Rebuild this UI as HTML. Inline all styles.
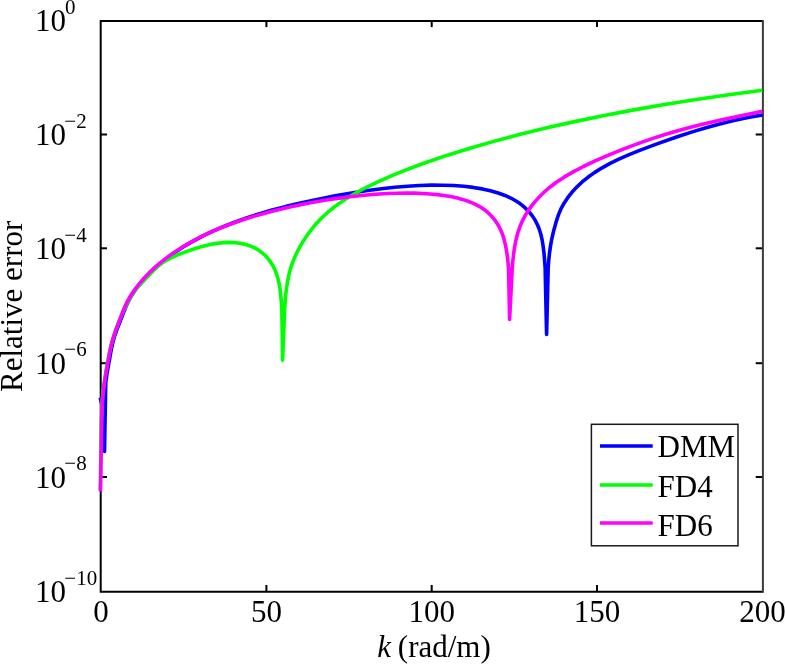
<!DOCTYPE html>
<html><head><meta charset="utf-8"><style>
html,body{margin:0;padding:0;background:#fff;}
svg{display:block;}
text{font-family:"Liberation Serif","Times New Roman",serif;font-size:31px;fill:#000;text-anchor:middle;}
text.l,text.s{text-anchor:start;}
text.s{font-size:21px;}
</style></head><body>
<svg width="785" height="664" viewBox="0 0 785 664">
<rect width="785" height="664" fill="#fff"/>
<g stroke="#000" stroke-width="2" fill="none">
<path d="M762.9,591.8 L100.7,591.8 L100.7,20.9 L762.9,20.9"/>
<line x1="266.4" y1="591.8" x2="266.4" y2="585.0"/><line x1="266.4" y1="20.9" x2="266.4" y2="27.1"/><line x1="431.7" y1="591.8" x2="431.7" y2="585.0"/><line x1="431.7" y1="20.9" x2="431.7" y2="27.1"/><line x1="597.0" y1="591.8" x2="597.0" y2="585.0"/><line x1="597.0" y1="20.9" x2="597.0" y2="27.1"/><line x1="100.7" y1="134.5" x2="107.0" y2="134.5"/><line x1="762.9" y1="134.5" x2="755.7" y2="134.5"/><line x1="100.7" y1="248.3" x2="107.0" y2="248.3"/><line x1="762.9" y1="248.3" x2="755.7" y2="248.3"/><line x1="100.7" y1="363.2" x2="107.0" y2="363.2"/><line x1="762.9" y1="363.2" x2="755.7" y2="363.2"/><line x1="100.7" y1="477.0" x2="107.0" y2="477.0"/><line x1="762.9" y1="477.0" x2="755.7" y2="477.0"/>
</g>
<line x1="762.9" y1="19.9" x2="762.9" y2="592.8" stroke="#3c3c3c" stroke-width="2"/>
<g fill="none" stroke-width="3.6" stroke-linejoin="round" stroke-linecap="butt">
<path stroke="#0000ff" d="M100.20,397.60 L102.30,406.00 L104.50,451.50 L105.73,382.71 L107.06,372.97 L111.07,350.69 L112.85,342.31 L114.63,336.02 L117.08,329.21 L123.76,312.01 L126.20,306.08 L127.98,302.20 L129.54,299.16 L131.55,295.66 L133.55,292.52 L136.44,288.46 L139.78,284.25 L143.79,279.64 L148.02,275.14 L152.47,270.74 L156.92,266.64 L161.60,262.62 L166.49,258.69 L174.51,252.80 L183.19,247.06 L192.31,241.62 L202.11,236.35 L212.35,231.38 L223.25,226.60 L234.60,222.11 L246.40,217.90 L258.87,213.89 L272.00,210.09 L286.25,206.37 L301.60,202.74 L318.30,199.15 L335.22,195.86 L351.69,192.99 L367.71,190.54 L381.51,188.74 L394.65,187.32 L407.56,186.23 L419.80,185.52 L431.60,185.17 L442.95,185.19 L453.63,185.57 L463.87,186.32 L473.22,187.41 L482.12,188.89 L490.36,190.72 L498.15,192.96 L505.05,195.47 L511.28,198.31 L516.85,201.48 L519.52,203.28 L521.97,205.14 L525.97,208.65 L529.54,212.40 L532.65,216.37 L535.32,220.57 L537.55,224.97 L539.33,229.44 L540.89,234.51 L542.22,240.48 L543.11,245.93 L544.00,253.24 L545.12,267.28 L546.60,334.50 L548.19,267.61 L548.83,259.34 L549.59,252.37 L550.56,245.63 L551.75,239.20 L553.69,230.70 L556.17,221.69 L558.43,214.85 L560.81,209.20 L563.93,203.45 L567.71,197.73 L571.92,192.33 L576.66,187.13 L582.16,181.95 L588.20,177.04 L594.78,172.39 L602.12,167.83 L610.10,163.45 L618.84,159.16 L628.54,154.87 L639.65,150.38 L655.62,144.41 L675.79,137.30 L691.53,132.10 L705.99,127.70 L719.79,123.93 L733.82,120.54 L748.05,117.52 L762.40,114.91"/>
<path stroke="#00ff00" d="M100.20,490.00 L101.50,418.69 L102.13,402.96 L102.50,397.15 L102.95,392.45 L103.77,386.17 L105.67,373.18 L107.13,364.34 L109.67,351.52 L111.03,345.79 L112.49,340.37 L114.30,334.38 L116.39,328.25 L118.66,322.24 L121.20,316.09 L124.29,309.22 L127.74,302.14 L130.56,296.82 L132.92,292.94 L134.83,290.31 L137.10,287.65 L153.45,270.48 L156.63,267.48 L159.71,264.86 L162.71,262.61 L165.71,260.66 L170.98,257.80 L177.24,255.02 L186.96,251.33 L196.13,248.21 L203.31,246.13 L210.12,244.52 L216.57,243.37 L222.83,242.67 L228.83,242.42 L234.55,242.61 L240.00,243.26 L245.27,244.37 L250.17,245.92 L254.71,247.90 L258.89,250.32 L262.62,253.12 L265.70,256.04 L268.61,259.37 L271.15,262.87 L273.33,266.54 L275.24,270.55 L276.78,274.67 L278.06,279.02 L279.14,283.96 L280.05,289.58 L280.78,295.68 L281.42,302.96 L281.87,310.07 L282.60,360.30 L284.58,309.78 L285.30,299.39 L286.02,292.15 L287.45,282.08 L288.41,277.13 L289.37,273.01 L290.57,268.64 L291.77,264.88 L293.21,260.94 L294.88,256.88 L297.04,252.27 L299.68,247.26 L302.55,242.33 L305.67,237.46 L308.78,232.97 L312.14,228.54 L315.49,224.51 L319.09,220.57 L322.92,216.73 L326.75,213.21 L330.83,209.75 L335.38,206.19 L339.93,202.89 L344.97,199.52 L350.24,196.23 L355.75,193.02 L362.70,189.26 L370.13,185.51 L378.27,181.66 L386.90,177.81 L396.01,173.96 L405.59,170.10 L415.66,166.26 L425.96,162.50 L447.53,155.16 L470.77,147.92 L495.45,140.86 L521.33,134.05 L547.93,127.60 L575.73,121.38 L604.24,115.52 L633.96,109.89 L664.63,104.56 L696.26,99.52 L728.85,94.77 L762.40,90.31"/>
<path stroke="#ff00ff" d="M100.50,491.50 L101.70,417.70 L102.31,403.70 L102.93,394.58 L103.75,387.37 L104.97,379.06 L107.02,366.70 L109.27,354.29 L110.70,347.36 L111.92,342.28 L113.36,337.32 L114.99,332.42 L122.56,312.30 L124.81,306.87 L127.06,302.04 L129.51,297.49 L132.37,292.92 L135.64,288.32 L139.32,283.65 L144.23,277.99 L149.34,272.66 L154.86,267.43 L160.79,262.33 L167.13,257.36 L173.68,252.68 L180.63,248.14 L187.78,243.85 L194.12,240.34 L200.67,236.96 L207.41,233.72 L214.57,230.51 L221.93,227.45 L229.50,224.51 L237.27,221.70 L245.24,219.02 L253.63,216.40 L262.21,213.90 L271.21,211.48 L280.41,209.17 L289.82,207.00 L299.43,204.94 L309.24,203.02 L319.06,201.25 L329.28,199.59 L339.50,198.10 L349.52,196.81 L359.54,195.70 L369.36,194.78 L378.97,194.05 L388.37,193.52 L397.37,193.20 L405.96,193.09 L414.34,193.17 L422.32,193.44 L430.09,193.93 L437.24,194.60 L443.99,195.47 L450.53,196.56 L456.46,197.82 L460.76,198.91 L464.85,200.14 L468.73,201.48 L472.21,202.87 L475.48,204.37 L478.75,206.09 L481.61,207.81 L484.48,209.78 L486.93,211.70 L489.38,213.90 L491.63,216.21 L493.88,218.86 L495.93,221.62 L497.77,224.47 L499.40,227.38 L501.04,230.78 L502.27,233.79 L503.49,237.36 L505.33,244.34 L506.77,252.08 L507.99,261.92 L508.61,269.03 L509.60,319.50 L512.21,268.38 L512.84,260.88 L513.72,253.13 L514.86,245.75 L516.24,238.95 L517.88,232.74 L520.02,226.43 L522.54,220.57 L525.56,214.86 L529.22,209.13 L533.37,203.59 L538.16,198.09 L543.33,192.90 L548.87,188.02 L556.05,182.53 L564.11,177.16 L573.18,171.84 L583.39,166.50 L595.61,160.72 L609.72,154.59 L624.46,148.64 L639.32,143.08 L652.17,138.63 L665.02,134.50 L677.74,130.74 L690.59,127.27 L704.32,123.87 L719.82,120.31 L737.33,116.53 L762.40,111.32"/>
</g>
<text x="101.0" y="622">0</text><text x="266.4" y="622">50</text><text x="431.7" y="622">100</text><text x="597.0" y="622">150</text><text x="762.4" y="622">200</text><text class="l" x="35" y="31.0">10</text><text class="s" x="64.9" y="13.5">0</text><text class="l" x="35" y="145.2">10</text><text class="s" x="64.3" y="127.7">−2</text><text class="l" x="35" y="259.0">10</text><text class="s" x="64.3" y="241.5">−4</text><text class="l" x="35" y="373.6">10</text><text class="s" x="64.3" y="356.1">−6</text><text class="l" x="35" y="487.8">10</text><text class="s" x="64.3" y="470.3">−8</text><text class="l" x="35" y="602.3">10</text><text class="s" x="64.3" y="584.8">−10</text>
<text transform="translate(21.5,306.3) rotate(-90)">Relative error</text>
<text class="l" x="377.3" y="657"><tspan font-style="italic">k</tspan><tspan dx="-1"> (rad/m)</tspan></text>
<rect x="591.4" y="424.3" width="146.6" height="121.5" fill="#fff" stroke="#1a1a1a" stroke-width="1.5"/>
<g stroke-width="3.6">
<line x1="600" y1="446" x2="652.7" y2="446" stroke="#0000ff"/>
<line x1="600" y1="485" x2="652.7" y2="485" stroke="#00ff00"/>
<line x1="600" y1="523" x2="652.7" y2="523" stroke="#ff00ff"/>
</g>
<text class="l" x="657.6" y="456.8">DMM</text>
<text class="l" x="657.6" y="496.9">FD4</text>
<text class="l" x="657.6" y="536.3">FD6</text>
</svg>
</body></html>
